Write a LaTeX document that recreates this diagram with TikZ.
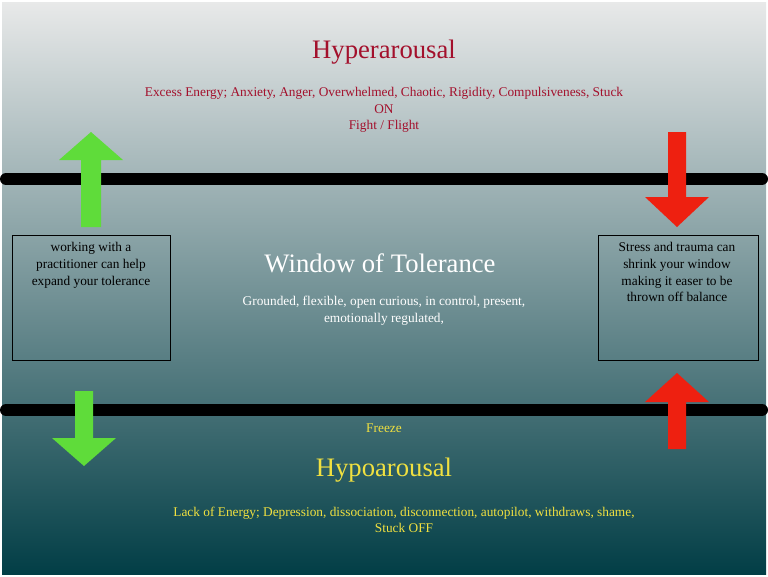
\documentclass[tikz,border=0pt]{standalone}
\usepackage{fontspec}
\setmainfont{Liberation Serif}
\begin{document}
\definecolor{topc}{HTML}{E8E9E9}
\definecolor{botc}{HTML}{023E46}
\definecolor{hyper}{HTML}{A3102C}
\definecolor{ylw}{HTML}{F0E040}
\definecolor{grn}{HTML}{5FDC3A}
\definecolor{rd}{HTML}{EE2010}
\begin{tikzpicture}[x=0.75pt,y=-0.75pt,
  bar/.style={line width=9pt,line cap=round,black},
  box/.style={draw=black,line width=0.75pt},
  big/.style={font=\fontsize{20}{24}\selectfont},
  small/.style={font=\fontsize{10}{12.5}\selectfont,align=center}]
\useasboundingbox (0,0) rectangle (768,576);
\fill[white] (0,0) rectangle (768,576);
\shade[top color=topc,bottom color=botc] (2,2) rectangle (766,574);
\node[big,text=hyper] (t1) at (384,52) {Hyperarousal};
\node[small,text=hyper] (s1) at (384,110) {Excess Energy; Anxiety, Anger, Overwhelmed, Chaotic, Rigidity, Compulsiveness, Stuck\\ON\\Fight / Flight};
\coordinate (b1l) at (6,179); \coordinate (b1r) at (762,179);
\coordinate (b2l) at (6,410); \coordinate (b2r) at (762,410);
\draw[bar] (b1l) -- (b1r);
\draw[bar] (b2l) -- (b2r);
\fill[grn] (81,227) -- (81,160) -- (59,160) -- (91,132) -- (123,160) -- (101,160) -- (101,227) -- cycle;
\fill[rd] (668,132) -- (668,197) -- (645,197) -- (677,227) -- (709,197) -- (686,197) -- (686,132) -- cycle;
\fill[grn] (75,391) -- (75,438) -- (52,438) -- (84,466) -- (116,438) -- (93,438) -- (93,391) -- cycle;
\fill[rd] (668,449) -- (668,402) -- (645,402) -- (677,373) -- (709,402) -- (686,402) -- (686,449) -- cycle;
\node[box,minimum width=158*0.75pt,minimum height=125*0.75pt] (lb) at (91,297.5) {};
\node[small,anchor=north] (lt) at (91,238) {working with a\\practitioner can help\\expand your tolerance};
\node[box,minimum width=160*0.75pt,minimum height=125*0.75pt] (rb) at (678,297.5) {};
\node[small,anchor=north] (rt) at (677,238) {Stress and trauma can\\shrink your window\\making it easer to be\\thrown off balance};
\node[big,text=white] (t2) at (380,263) {Window of Tolerance};
\node[small,text=white] (s2) at (384,311) {Grounded, flexible, open curious, in control, present,\\emotionally regulated,};
\node[small,text=ylw] (fz) at (384,428) {Freeze};
\node[big,text=ylw] (t3) at (384,470) {Hypoarousal};
\node[small,text=ylw] (s3) at (404,520) {Lack of Energy; Depression, dissociation, disconnection, autopilot, withdraws, shame,\\Stuck OFF};
\end{tikzpicture}
\end{document}
